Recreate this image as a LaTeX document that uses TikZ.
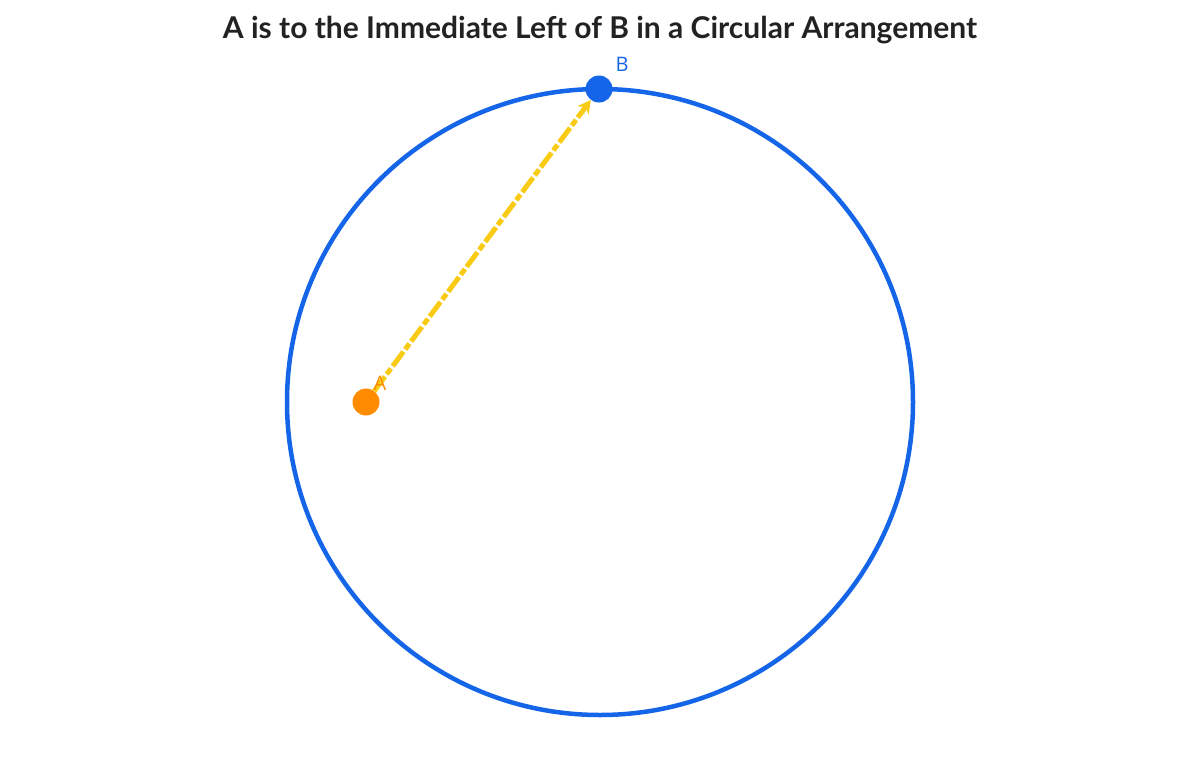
\documentclass[tikz,border=0pt]{standalone}
\usepackage{fontspec}
\setmainfont{Lato}
\newfontfamily\titlefont{Lato}
\newfontfamily\labelfont{Open Sans}
\usetikzlibrary{arrows.meta}
\definecolor{ringblue}{HTML}{1565E8}
\definecolor{aorange}{HTML}{FF8C00}
\definecolor{arrowyellow}{HTML}{F9CB14}
\definecolor{titlegray}{HTML}{222222}
\tikzset{
  ring/.style={draw=ringblue, line width=4.5pt},
  seatdot/.style={circle, minimum size=27pt, inner sep=0pt},
  seatlabel/.style={font=\labelfont\fontsize{20}{23}\selectfont},
  relarrow/.style={draw=arrowyellow, line width=5pt, dash pattern=on 18pt off 3pt on 7pt off 3pt, -{Stealth[length=13pt,width=14pt]}},
}
\begin{document}
\begin{tikzpicture}[x=1pt,y=-1pt]
\useasboundingbox (0,0) rectangle (1200,763);
\node[font=\titlefont\bfseries\fontsize{30}{34}\selectfont, text=titlegray] (title) at (600,30) {A is to the Immediate Left of B in a Circular Arrangement};
\coordinate (center) at (600,402);
\draw[ring] (center) circle (313);
\node[seatdot] (a) at (366,402) {};
\node[seatdot] (b) at (599,89) {};
\draw[relarrow] (a) -- (b);
\node[seatdot, fill=aorange] at (a) {};
\node[seatdot, fill=ringblue] at (b) {};
\node[seatlabel, text=ringblue] (lb) at (622,64) {B};
\node[seatlabel, text=aorange] (la) at (380,383) {A};
\end{tikzpicture}
\end{document}
